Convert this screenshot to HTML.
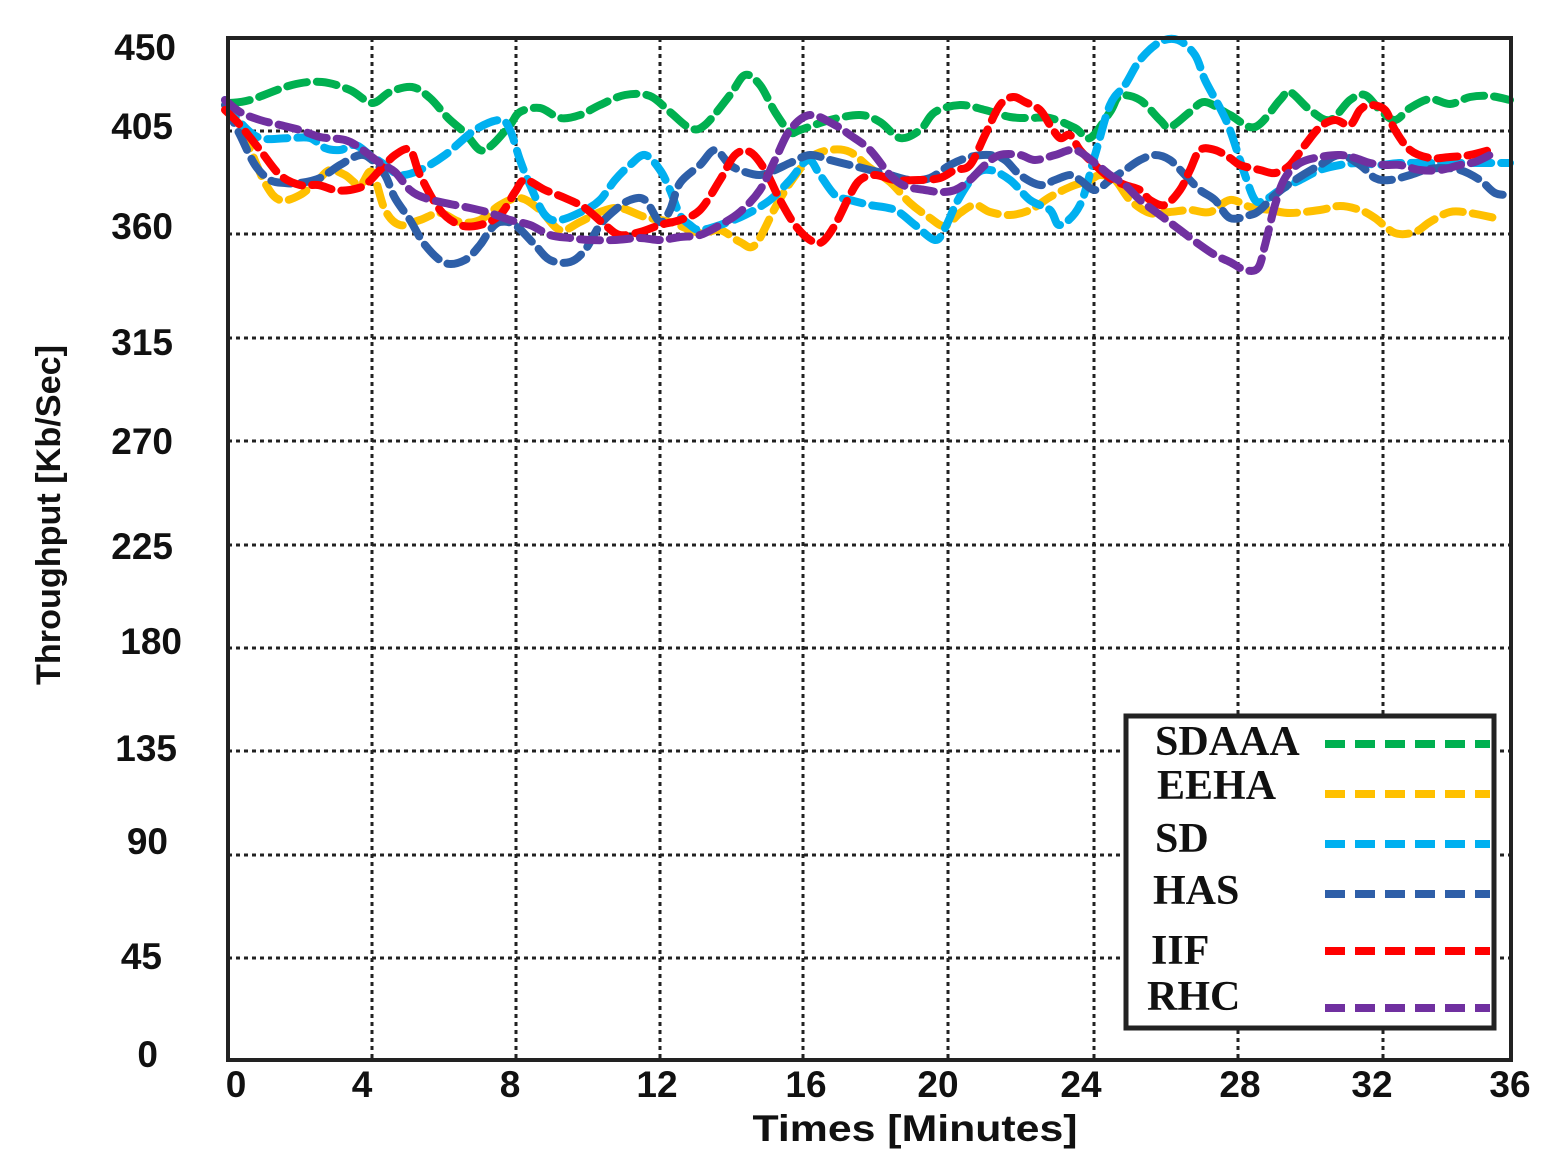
<!DOCTYPE html>
<html><head><meta charset="utf-8"><style>
html,body{margin:0;padding:0;background:#fff;}
svg{display:block}
.t{font-family:"Liberation Sans",sans-serif;font-weight:bold;font-size:37px;fill:#111}
.x{font-family:"Liberation Sans",sans-serif;font-weight:bold;font-size:34px;fill:#111}
.l{font-family:"Liberation Serif",serif;font-weight:bold;font-size:42px;fill:#111}
</style></head><body>
<svg id="s" width="1551" height="1171" viewBox="0 0 1551 1171" xmlns="http://www.w3.org/2000/svg">
<g stroke="#222" stroke-width="3" stroke-dasharray="4,4" fill="none">
<line x1="228" y1="131" x2="1511" y2="131"/><line x1="228" y1="234" x2="1511" y2="234"/>
<line x1="228" y1="338" x2="1511" y2="338"/><line x1="228" y1="441" x2="1511" y2="441"/>
<line x1="228" y1="545" x2="1511" y2="545"/><line x1="228" y1="648" x2="1511" y2="648"/>
<line x1="228" y1="751" x2="1511" y2="751"/><line x1="228" y1="855" x2="1511" y2="855"/>
<line x1="228" y1="958" x2="1511" y2="958"/>
<line x1="372" y1="38" x2="372" y2="1060"/><line x1="516" y1="38" x2="516" y2="1060"/>
<line x1="660" y1="38" x2="660" y2="1060"/><line x1="803" y1="38" x2="803" y2="1060"/>
<line x1="948" y1="38" x2="948" y2="1060"/><line x1="1094" y1="38" x2="1094" y2="1060"/>
<line x1="1238" y1="38" x2="1238" y2="1060"/><line x1="1383" y1="38" x2="1383" y2="1060"/>
</g>
<g id="series" fill="none" stroke-width="8" stroke-dasharray="20,10" stroke-linecap="round"></g>
<rect x="228" y="38" width="1283" height="1022" fill="none" stroke="#222" stroke-width="4"/>
<rect x="1126" y="716" width="368" height="312" fill="#fff" stroke="#222" stroke-width="5"/>
<g class="l">
<text x="1155" y="755">SDAAA</text><text x="1157" y="799">EEHA</text><text x="1155" y="852">SD</text>
<text x="1153" y="904">HAS</text><text x="1151" y="964">IIF</text><text x="1147" y="1010">RHC</text>
</g>
<g stroke-width="8" stroke-dasharray="20,10" fill="none">
<line x1="1325" y1="744" x2="1490" y2="744" stroke="#00b050"/>
<line x1="1325" y1="794" x2="1490" y2="794" stroke="#ffc000"/>
<line x1="1325" y1="844" x2="1490" y2="844" stroke="#00b0f0"/>
<line x1="1325" y1="894" x2="1490" y2="894" stroke="#2e5fa8"/>
<line x1="1325" y1="951" x2="1490" y2="951" stroke="#ff0000"/>
<line x1="1325" y1="1008" x2="1490" y2="1008" stroke="#7030a0"/>
</g>
<g class="t" text-anchor="end">
<text x="176" y="60">450</text><text x="173" y="139">405</text><text x="173" y="239">360</text>
<text x="173" y="355">315</text><text x="173" y="454">270</text><text x="173" y="559">225</text>
<text x="182" y="654">180</text><text x="177" y="761">135</text><text x="168" y="854">90</text>
<text x="162" y="969">45</text><text x="158" y="1067">0</text>
</g>
<g class="t" text-anchor="middle">
<text x="236" y="1097">0</text><text x="362" y="1097">4</text><text x="510" y="1097">8</text>
<text x="657" y="1097">12</text><text x="806" y="1097">16</text><text x="938" y="1097">20</text>
<text x="1081" y="1097">24</text><text x="1240" y="1097">28</text><text x="1372" y="1097">32</text>
<text x="1510" y="1097">36</text>
<text x="915" y="1141" textLength="325" lengthAdjust="spacingAndGlyphs">Times [Minutes]</text>
</g>
<text class="x" text-anchor="middle" transform="translate(60,515) rotate(-90)" textLength="340" lengthAdjust="spacingAndGlyphs">Throughput [Kb/Sec]</text>
</svg>
<script>
var D={
"#00b050":[[230,103],[250,100],[292,85],[322,82],[350,90],[372,103],[390,92],[412,87],[430,98],[448,118],[465,133],[480,150],[492,145],[510,125],[520,112],[540,108],[560,118],[580,115],[600,105],[625,95],[650,96],[670,112],[690,128],[705,125],[730,95],[745,75],[760,85],[775,112],[790,132],[800,130],[830,120],[860,115],[880,122],[900,138],[920,130],[935,112],[960,105],[985,110],[1010,117],[1030,118],[1050,118],[1075,128],[1090,138],[1110,112],[1120,96],[1140,100],[1160,120],[1170,127],[1190,112],[1205,102],[1230,115],[1255,127],[1280,100],[1290,92],[1310,110],[1330,120],[1350,100],[1365,95],[1380,110],[1395,120],[1410,108],[1430,99],[1450,104],[1470,97],[1490,96],[1510,100]],
"#ffc000":[[225,105],[245,138],[265,183],[280,200],[300,195],[318,180],[330,170],[345,175],[360,185],[372,172],[385,210],[400,225],[420,220],[440,213],[460,222],[480,220],[500,205],[520,198],[540,210],[560,230],[580,222],[600,212],[620,208],[645,217],[670,222],[700,233],[720,230],[740,242],[755,245],[775,208],[790,183],[810,158],[830,150],[850,152],[870,168],[890,182],[910,203],[930,218],[945,226],[960,213],[975,205],[990,212],[1010,215],[1030,210],[1050,197],[1070,187],[1090,180],[1100,175],[1115,180],[1130,200],[1150,213],[1170,212],[1190,210],[1210,212],[1230,200],[1250,207],[1270,210],[1290,213],[1320,210],[1340,206],[1360,210],[1375,218],[1395,233],[1415,232],[1430,222],[1450,212],[1470,213],[1495,218]],
"#00b0f0":[[225,100],[240,122],[260,138],[290,138],[310,138],[325,148],[340,150],[355,145],[370,155],[385,165],[400,175],[420,170],[445,155],[475,130],[500,120],[510,130],[520,160],[530,185],[545,215],[560,220],[585,210],[600,200],[615,180],[630,165],[645,155],[660,170],[670,190],[680,215],[690,225],[700,230],[720,225],[745,215],[770,200],[790,180],[808,160],[820,175],[835,195],[850,200],[870,205],[895,210],[915,225],[935,240],[945,228],[958,200],[975,175],[990,170],[1010,180],[1030,200],[1050,210],[1060,225],[1080,205],[1095,155],[1110,105],[1125,85],[1140,60],[1160,42],[1178,40],[1195,55],[1205,80],[1220,108],[1230,130],[1245,175],[1255,200],[1265,200],[1280,190],[1300,180],[1320,170],[1340,165],[1360,163],[1380,165],[1400,163],[1440,163],[1480,163],[1510,163]],
"#2e5fa8":[[225,105],[240,135],[255,165],[270,180],[285,183],[300,183],[320,178],[340,165],[360,155],[372,160],[385,175],[395,198],[410,220],[425,245],[445,263],[465,260],[480,245],[490,230],[500,222],[515,225],[535,245],[550,260],[570,262],[585,250],[600,225],[615,210],[630,200],[645,200],[660,222],[670,210],[680,183],[700,165],[715,150],[730,165],[745,172],[760,175],[775,170],[790,163],[810,155],[830,160],[850,165],[870,170],[890,175],[910,180],[930,178],[950,165],[970,157],[990,155],[1005,160],[1020,175],[1040,185],[1055,180],[1070,175],[1080,180],[1095,190],[1110,180],[1125,170],[1140,160],[1155,155],[1170,160],[1185,175],[1200,190],[1215,200],[1230,218],[1250,215],[1260,210],[1275,195],[1295,180],[1320,165],[1340,155],[1360,165],[1375,178],[1390,180],[1410,175],[1425,170],[1440,168],[1460,170],[1480,180],[1495,193],[1510,195]],
"#ff0000":[[225,110],[240,125],[260,150],[280,175],[300,185],[318,185],[335,190],[350,190],[365,185],[380,170],[395,155],[410,150],[420,175],[440,210],[460,225],[480,225],[500,215],[515,192],[525,180],[545,190],[565,198],[585,208],[605,225],[620,235],[640,232],[660,225],[680,220],[700,210],[720,180],[735,155],[750,152],[765,170],[780,200],[795,225],[810,240],[822,242],[835,225],[850,195],[860,180],[875,175],[895,180],[920,180],[940,178],[955,170],[970,165],[985,135],[1000,105],[1013,97],[1025,102],[1040,110],[1050,125],[1060,138],[1070,135],[1080,150],[1095,165],[1110,178],[1125,185],[1140,190],[1150,200],[1165,205],[1180,190],[1190,170],[1200,150],[1215,150],[1230,158],[1240,165],[1260,170],[1275,173],[1290,165],[1305,145],[1320,127],[1335,120],[1350,125],[1360,110],[1370,105],[1385,110],[1395,130],[1410,150],[1430,158],[1450,157],[1470,155],[1490,150]],
"#7030a0":[[225,100],[240,112],[260,120],[280,125],[300,130],[320,137],[345,140],[360,148],[380,163],[395,172],[410,190],[425,198],[445,203],[470,208],[490,213],[510,220],[530,225],[550,235],[570,238],[590,240],[615,240],[640,238],[660,240],[680,237],[700,235],[720,225],[740,212],[760,190],[775,160],[790,130],[810,115],[835,125],[850,135],[870,150],[890,175],[905,186],[925,190],[940,192],[955,190],[970,180],[985,165],[1000,155],[1020,155],[1035,160],[1055,155],[1075,150],[1095,163],[1110,175],[1125,185],[1140,200],[1160,215],[1180,230],[1200,245],[1215,255],[1230,262],[1245,270],[1258,268],[1265,245],[1275,205],[1285,178],[1300,163],[1320,157],[1340,155],[1355,158],[1370,163],[1385,165],[1400,165],[1420,170],[1440,170],[1460,165],[1475,162],[1490,155]]
};
var g=document.getElementById("series"),ns="http://www.w3.org/2000/svg";
for(var c in D){var p=D[c],d="M"+p[0][0]+","+p[0][1];
for(var i=0;i<p.length-1;i++){var p0=p[Math.max(i-1,0)],p1=p[i],p2=p[i+1],p3=p[Math.min(i+2,p.length-1)];
d+=" C"+(p1[0]+(p2[0]-p0[0])/6)+","+(p1[1]+(p2[1]-p0[1])/6)+" "+(p2[0]-(p3[0]-p1[0])/6)+","+(p2[1]-(p3[1]-p1[1])/6)+" "+p2[0]+","+p2[1];}
var e=document.createElementNS(ns,"path");e.setAttribute("d",d);e.setAttribute("stroke",c);g.appendChild(e);}
</script>
</body></html>
